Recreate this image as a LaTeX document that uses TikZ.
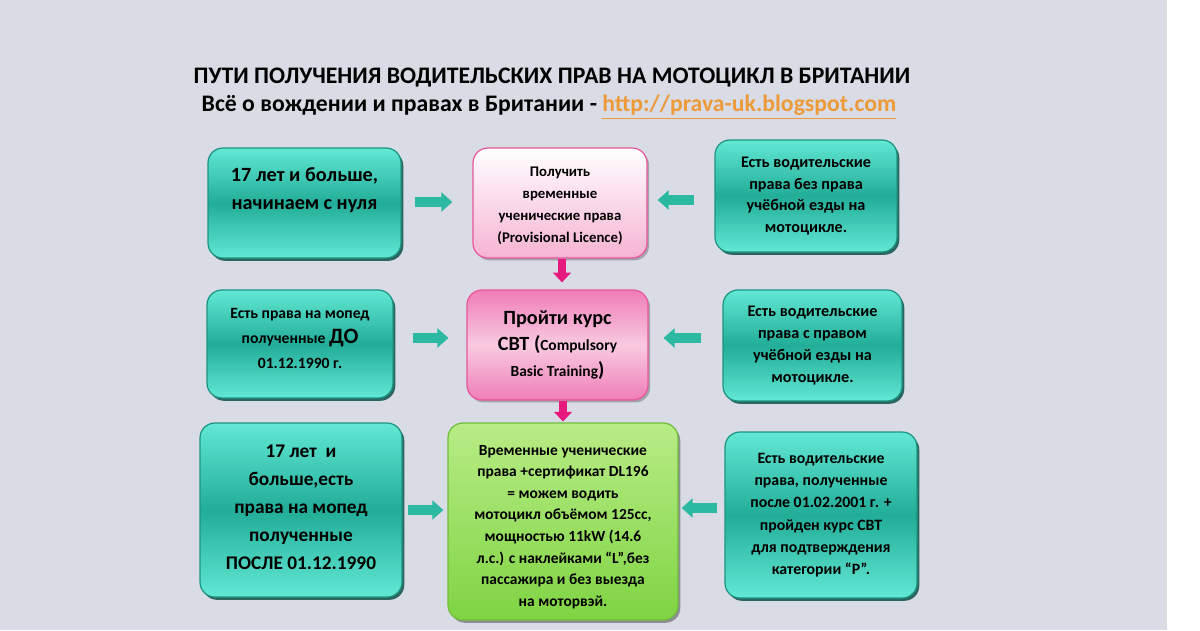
\documentclass[tikz,border=0pt]{standalone}
\usepackage{fontspec}
\setmainfont{Carlito}
\usetikzlibrary{shadows,arrows.meta}
\definecolor{bg}{HTML}{D9DCE5}
\definecolor{tealL}{HTML}{62E8D4}
\definecolor{tealD}{HTML}{22AD98}
\definecolor{tealB}{HTML}{1C9482}
\definecolor{tealS}{HTML}{0E5048}
\definecolor{tealA}{HTML}{2CB9A2}
\definecolor{pinkL}{HTML}{FFFFFF}
\definecolor{pinkM}{HTML}{F6B3D3}
\definecolor{pinkB}{HTML}{E8579B}
\definecolor{pinkD}{HTML}{F07DB8}
\definecolor{pinkA}{HTML}{E6197F}
\definecolor{greenL}{HTML}{B8EC86}
\definecolor{greenD}{HTML}{7FD443}
\definecolor{greenB}{HTML}{6FBE3A}
\definecolor{urlc}{HTML}{EC9A3A}
\tikzset{
  boxbase/.style={rounded corners=8.5pt, line width=0.7pt, inner sep=0pt},
  tealbox/.style={boxbase, draw=tealB, top color=tealL, bottom color=tealL, middle color=tealD,
    drop shadow={shadow xshift=1.3pt, shadow yshift=-1.6pt, fill=tealS, opacity=0.85}},
  pinkbox/.style={boxbase, draw=pinkB, top color=pinkL, bottom color=pinkM,
    drop shadow={shadow xshift=1.2pt, shadow yshift=-1.4pt, fill=black, opacity=0.25}},
  pinkbox2/.style={boxbase, draw=pinkB, top color=pinkD, bottom color=pinkD, middle color=pinkM!70!white,
    drop shadow={shadow xshift=1.2pt, shadow yshift=-1.4pt, fill=black, opacity=0.25}},
  greenbox/.style={boxbase, draw=greenB, top color=greenL, bottom color=greenD,
    drop shadow={shadow xshift=1.3pt, shadow yshift=-1.6pt, fill=black, opacity=0.35}},
  sz/.style 2 args={minimum width=#1*0.02cm, minimum height=#2*0.02cm},
  txt/.style 2 args={align=center, text=black, font=\bfseries\fontsize{#1}{#2}\selectfont},
  tarrow/.style={draw=tealA, line width=5.7pt, -{Triangle[width=10.8pt,length=6.3pt]}},
  parrow/.style={draw=pinkA, line width=4.5pt, -{Triangle[width=10pt,length=5.5pt]}},
}
\begin{document}
\begin{tikzpicture}[x=0.02cm,y=-0.02cm]
\useasboundingbox (0,0) rectangle (1200,630);
\fill[bg] (0,0) rectangle (1167,630);
\fill[white] (1167,0) rectangle (1200,630);

% title
\node[txt={13.5}{16}] (title) at (552,78) {ПУТИ ПОЛУЧЕНИЯ ВОДИТЕЛЬСКИХ ПРАВ НА МОТОЦИКЛ В БРИТАНИИ};
\node[txt={13.5}{16}] (sub) at (549,107) {Всё о вождении и правах в Британии - \textcolor{urlc}{\underline{http://prava-uk.blogspot.com}}};

% boxes
\node[tealbox, sz={193}{110},
  label={[txt={11.5}{16}, yshift=7.5pt]center:{17 лет и больше,\\начинаем с нуля}}] (tl) at (304.5,203) {};
\node[pinkbox, sz={174}{110},
  label={[txt={8.4}{12.5}, yshift=-1.7pt]center:{Получить\\временные\\ученические права\\(Provisional Licence)}}] (tc) at (560,203) {};
\node[tealbox, sz={182}{112},
  label={[txt={9.2}{12.2}]center:{Есть водительские\\права без права\\учёбной езды на\\мотоцикле.}}] (tr) at (806,196) {};

\node[tealbox, sz={186}{108},
  label={[txt={8.9}{14.3}, yshift=3pt]center:{Есть права на мопед\\полученные {\fontsize{12.5}{14.3}\selectfont ДО}\\01.12.1990 г.}}] (ml) at (300,344) {};
\node[pinkbox2, sz={181}{110},
  label={[txt={11.5}{15}]center:{Пройти курс\\CBT ({\fontsize{8.8}{15}\selectfont Compulsory}\\{\fontsize{8.8}{15}\selectfont Basic Training})}}] (mc) at (557.5,345) {};
\node[tealbox, sz={179}{111},
  label={[txt={9.2}{12.4}]center:{Есть водительские\\права с правом\\учёбной езды на\\мотоцикле.}}] (mr) at (812.5,345.5) {};

\node[tealbox, sz={202}{174},
  label={[txt={11}{15.9}, yshift=1.7pt]center:{17 лет\ \ и\\больше,есть\\права на мопед\\полученные\\ПОСЛЕ 01.12.1990}}] (bl) at (301,510) {};
\node[greenbox, sz={230}{197},
  label={[txt={8.8}{12.3}, yshift=-3.1pt]center:{Временные ученические\\права +сертификат DL196\\= можем водить\\мотоцикл объёмом 125cc,\\мощностью 11kW (14.6\\л.с.) с наклейками “L”,без\\пассажира и без выезда\\на моторвэй.}}] (bc) at (563,521.5) {};
\node[tealbox, sz={192}{166},
  label={[txt={9}{12.7}]center:{Есть водительские\\права, полученные\\после 01.02.2001 г. +\\пройден курс CBT\\для подтверждения\\категории “P”.}}] (br) at (821,515) {};

% teal arrows
\draw[tarrow, shorten <=7.4pt, shorten >=11.4pt] (tl.east |- 0,202) -- (tc.west |- 0,202);
\draw[tarrow, shorten <=11.4pt, shorten >=5.7pt] (tr.west |- 0,200) -- (tc.east |- 0,200);
\draw[tarrow, shorten <=10.8pt, shorten >=10.2pt] (ml.east |- 0,338) -- (mc.west |- 0,338);
\draw[tarrow, shorten <=12pt, shorten >=8.5pt] (mr.west |- 0,338) -- (mc.east |- 0,338);
\draw[tarrow, shorten <=2.8pt, shorten >=2.3pt] (bl.east |- 0,510) -- (bc.west |- 0,510);
\draw[tarrow, shorten <=4pt, shorten >=1.7pt] (br.west |- 0,508) -- (bc.east |- 0,508);

% pink arrows
\draw[parrow, shorten >=4pt] (tc.south -| 562,0) -- (mc.north -| 562,0);
\draw[parrow, shorten >=0.5pt] (mc.south -| 563,0) -- (bc.north -| 563,0);
\end{tikzpicture}
\end{document}
